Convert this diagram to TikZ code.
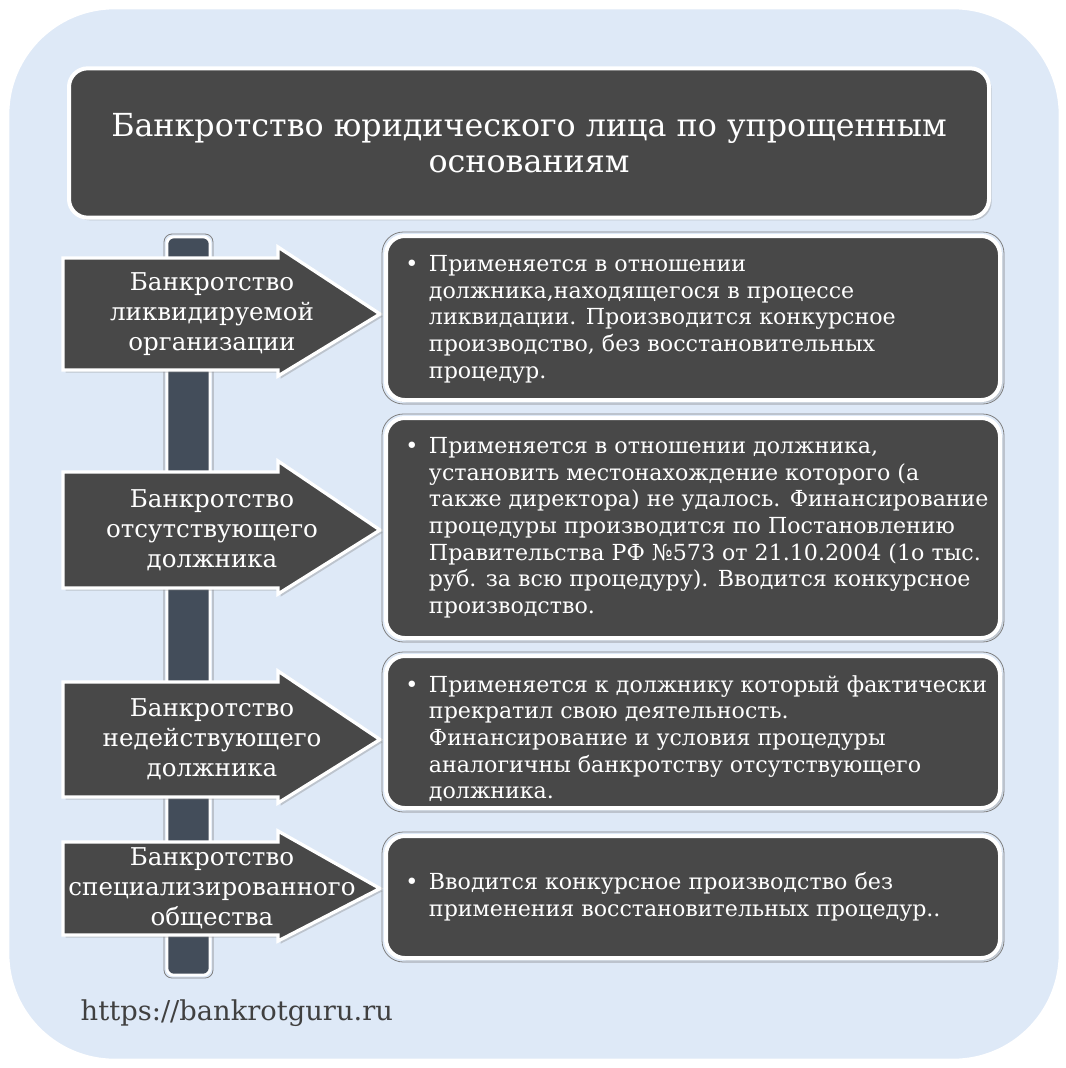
\documentclass[tikz,border=0pt]{standalone}
\usepackage{fontspec}
\setmainfont{DejaVu Serif}
\usetikzlibrary{shadows}
\definecolor{bgblue}{HTML}{DEE9F7}
\definecolor{boxgray}{HTML}{484848}
\definecolor{barblue}{HTML}{434D5A}
\definecolor{urlgray}{HTML}{404040}
\newcommand{\bul}{•\hspace{8pt}}
\newcommand{\ind}{\phantom{•}\hspace{8pt}}
\tikzset{
  darkbox/.style={fill=boxgray,draw=white,line width=3pt,rounded corners=14pt,drop shadow={shadow xshift=2pt,shadow yshift=-2pt,opacity=0.35}},
  arrowshape/.style={fill=boxgray,draw=white,line width=2.5pt,drop shadow={shadow xshift=2pt,shadow yshift=-2pt,opacity=0.35}},
  lbl/.style={text=white,align=center,font=\fontsize{18.4}{22.5}\selectfont},
  btxt/.style={text=white,align=left,anchor=north west,inner sep=0pt,font=\fontsize{16.6}{20}\selectfont},
}
\begin{document}
\begin{tikzpicture}[x=0.75pt,y=-0.75pt]
\useasboundingbox (0,0) rectangle (1066,1068);
\fill[white] (0,0) rectangle (1066,1068);
\fill[bgblue,draw=white,line width=2pt,rounded corners=80pt] (8,8) rectangle (1060,1060);
% title
\node[darkbox,minimum width=690pt,minimum height=112pt] (title) at (529,143) {};
\node[lbl,font=\fontsize{23.8}{27}\selectfont] (tt) at (title) {Банкротство юридического лица по упрощенным\\основаниям};
% bar
\draw[fill=barblue,draw=white,line width=2pt,rounded corners=5pt] (167,237) rectangle (210,975);
\draw[gray,line width=0.6pt,rounded corners=6pt] (164,234) rectangle (213,978);
% arrows
\foreach \n/\t/\b/\txt in {a1/258/370/{Банкротство\\ликвидируемой\\организации},
  a2/472/588/{Банкротство\\отсутствующего\\должника},
  a3/682/797/{Банкротство\\недействующего\\должника},
  a4/842/935/{Банкротство\\специализированного\\общества}}{
  \draw[arrowshape] (63,\t) -- (278,\t) -- (278,\t-11) -- (380,{(\t+\b)/2}) -- (278,\b+6) -- (278,\b) -- (63,\b) -- cycle;
  \node[lbl] (\n) at (212,{(\t+\b)/2}) {\txt};
}
% boxes
\foreach \n/\t/\b in {b1/236/400,b2/418/638,b3/656/808,b4/836/958}{
  \draw[darkbox] (386,\t) rectangle (1000,\b);
  \draw[gray,line width=0.6pt,rounded corners=16pt] (382,\t-4) rectangle (1004,\b+4);
  \coordinate (\n) at (405,\t+19);
}
\node[btxt] (t1) at (b1) {\bul Применяется в отношении\\\ind должника,находящегося в процессе\\\ind ликвидации. Производится конкурсное\\\ind производство, без восстановительных\\\ind процедур.};
\node[btxt] (t2) at (b2) {\bul Применяется в отношении должника,\\\ind установить местонахождение которого (а\\\ind также директора) не удалось. Финансирование\\\ind процедуры производится по Постановлению\\\ind Правительства РФ №573 от 21.10.2004 (1o тыс.\\\ind руб. за всю процедуру). Вводится конкурсное\\\ind производство.};
\node[btxt] (t3) at (b3) {\bul Применяется к должнику который фактически\\\ind прекратил свою деятельность.\\\ind Финансирование и условия процедуры\\\ind аналогичны банкротству отсутствующего\\\ind должника.};
\node[btxt,anchor=west] (t4) at (405,897) {\bul Вводится конкурсное производство без\\\ind применения восстановительных процедур..};
\node[anchor=west,text=urlgray,font=\fontsize{20.5}{24}\selectfont] (url) at (76,1013) {https://bankrotguru.ru};
\end{tikzpicture}
\end{document}
